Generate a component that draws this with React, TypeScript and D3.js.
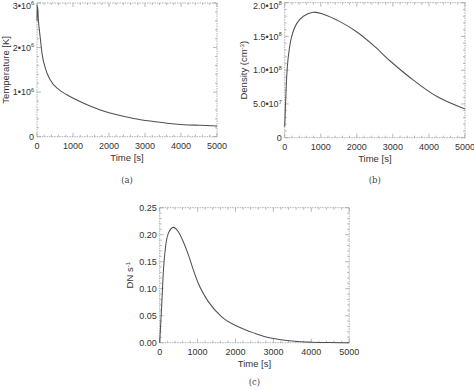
import React from "react";
import * as d3 from "d3";

// ---- Data ----
const tempTime = [0, 5, 12, 20, 30, 45, 65, 93, 139, 231, 370, 602, 833, 1296, 1759, 2222, 2685, 3148, 3611, 4074, 4537, 5000];
const tempValue = [2.6e6, 2.95e6, 2.7e6, 2.9e6, 2.75e6, 2.55e6, 2.4e6, 2.2e6, 1.87e6, 1.54e6, 1.27e6, 1.06e6, 0.94e6, 0.75e6, 0.6e6, 0.49e6, 0.41e6, 0.35e6, 0.3e6, 0.27e6, 0.255e6, 0.24e6];

const densTime = [0, 28, 55, 100, 194, 332, 517, 794, 1070, 1532, 1994, 2456, 2917, 3577, 4224, 5000];
const densValue = [1.63e7, 5.6e7, 9.0e7, 1.2e8, 1.5e8, 1.69e8, 1.8e8, 1.86e8, 1.83e8, 1.72e8, 1.57e8, 1.37e8, 1.14e8, 8.5e7, 6.1e7, 4.25e7];

const dnTime = [0, 53, 95, 158, 228, 360, 491, 623, 755, 887, 1018, 1282, 1636, 2074, 2514, 2778, 3000, 3250, 3500, 3750, 4000, 4500, 5000];
const dnValue = [0, 0.0695, 0.131, 0.18, 0.2025, 0.2136, 0.2055, 0.187, 0.163, 0.135, 0.11, 0.076, 0.048, 0.0296, 0.0173, 0.0112, 0.0078, 0.0049, 0.003, 0.0017, 0.001, 0.0003, 0];

const timeTicks = [0, 1000, 2000, 3000, 4000, 5000];
const tempTicks = [0, 1e6, 2e6, 3e6];
const tempTickLabels = [["0", ""], ["1•10", "6"], ["2•10", "6"], ["3•10", "6"]];
const densTicks = [0, 5e7, 1e8, 1.5e8, 2e8];
const densTickLabels = [["0", ""], ["5.0•10", "7"], ["1.0•10", "8"], ["1.5•10", "8"], ["2.0•10", "8"]];
const dnTicks = [0, 0.05, 0.1, 0.15, 0.2, 0.25];
const dnTickLabels = [["0.00", ""], ["0.05", ""], ["0.10", ""], ["0.15", ""], ["0.20", ""], ["0.25", ""]];

const FONT = "'Liberation Sans', Arial, Helvetica, sans-serif";
const TXT = "#333";

type PanelProps = {
  x0: number; x1: number; y0: number; y1: number;
  times: number[]; values: number[];
  yMax: number; yTicks: number[]; yTickLabels: string[][];
  yMinorStep: number;
  yLabel: React.ReactNode; yLabelX: number;
  caption: string; captionY: number;
  curve: d3.CurveFactory;
};

function Panel(p: PanelProps) {
  const x = d3.scaleLinear().domain([0, 5000]).range([p.x0, p.x1]);
  const y = d3.scaleLinear().domain([0, p.yMax]).range([p.y1, p.y0]);
  const pts: [number, number][] = p.times.map((t, i) => [t, p.values[i]]);
  const line = d3.line<[number, number]>().x(d => x(d[0])).y(d => y(d[1])).curve(p.curve);
  const xMinor = d3.range(0, 5000 + 1, 200);
  const yMinor = d3.range(0, p.yMax * 1.0001, p.yMinorStep);
  const frame = "#9a9a9a";
  const cx = (p.x0 + p.x1) / 2;
  const cy = (p.y0 + p.y1) / 2;
  return (
    <g>
      <rect x={p.x0} y={p.y0} width={p.x1 - p.x0} height={p.y1 - p.y0} fill="none" stroke={frame} strokeWidth={0.8} strokeDasharray="1.5,1" />
      {xMinor.map((t, i) => {
        const major = t % 1000 === 0;
        const len = major ? 4 : 2;
        return (
          <g key={"xm" + i} stroke={frame} strokeWidth={0.7}>
            <line x1={x(t)} x2={x(t)} y1={p.y1} y2={p.y1 - len} />
            <line x1={x(t)} x2={x(t)} y1={p.y0} y2={p.y0 + len} />
          </g>
        );
      })}
      {yMinor.map((v, i) => {
        const major = p.yTicks.some(tk => Math.abs(tk - v) < p.yMinorStep * 0.01);
        const len = major ? 4 : 2;
        return (
          <g key={"ym" + i} stroke={frame} strokeWidth={0.7}>
            <line x1={p.x0} x2={p.x0 + len} y1={y(v)} y2={y(v)} />
            <line x1={p.x1} x2={p.x1 - len} y1={y(v)} y2={y(v)} />
          </g>
        );
      })}
      <path d={line(pts) || ""} fill="none" stroke="#505050" strokeWidth={1.05} />
      {timeTicks.map(t => (
        <text key={"xl" + t} x={x(t)} y={p.y1 + 12.5} textAnchor="middle" fontFamily={FONT} fontSize={9} fill={TXT}>{t}</text>
      ))}
      <text x={cx} y={p.y1 + 24} textAnchor="middle" fontFamily={FONT} fontSize={9.5} fill={TXT}>Time [s]</text>
      {p.yTicks.map((v, i) => (
        <text key={"yl" + i} x={p.x0 - 3} y={Math.max(y(v) + 3.2, 8.5)} textAnchor="end" fontFamily={FONT} fontSize={9} fill={TXT}>
          {p.yTickLabels[i][0]}
          {p.yTickLabels[i][1] ? <tspan dy={-3.5} fontSize={5.5}>{p.yTickLabels[i][1]}</tspan> : null}
        </text>
      ))}
      <text transform={`translate(${p.yLabelX},${cy}) rotate(-90)`} textAnchor="middle" fontFamily={FONT} fontSize={9.5} fill={TXT}>
        {p.yLabel}
      </text>
      <text x={cx} y={p.captionY} textAnchor="middle" fontFamily="'DejaVu Serif', 'Liberation Serif', serif" fontSize={8.5} fill="#444">{p.caption}</text>
    </g>
  );
}

export default function App() {
  return (
    <svg width={474} height={390} style={{ position: "absolute", left: 0, top: 0, background: "#fff" }}>
      <rect width={474} height={390} fill="#fff" />
      <Panel x0={37} x1={217} y0={3} y1={136.7}
        times={tempTime} values={tempValue} yMax={3e6}
        yTicks={tempTicks} yTickLabels={tempTickLabels} yMinorStep={2e5}
        yLabel={"Temperature [K]"} yLabelX={8.5}
        caption="(a)" captionY={183} curve={d3.curveMonotoneX} />
      <Panel x0={284.7} x1={465} y0={2.7} y1={137.7}
        times={densTime} values={densValue} yMax={2e8}
        yTicks={densTicks} yTickLabels={densTickLabels} yMinorStep={1e7}
        yLabel={<>Density (cm<tspan dy={-3.5} fontSize={6}>-3</tspan><tspan dy={3.5}>)</tspan></>} yLabelX={247}
        caption="(b)" captionY={183} curve={d3.curveCatmullRom.alpha(0.5)} />
      <Panel x0={159.7} x1={349.2} y0={207.7} y1={342.7}
        times={dnTime} values={dnValue} yMax={0.25}
        yTicks={dnTicks} yTickLabels={dnTickLabels} yMinorStep={0.01}
        yLabel={<>DN s<tspan dy={-3.5} fontSize={6}>-1</tspan></>} yLabelX={133}
        caption="(c)" captionY={385} curve={d3.curveMonotoneX} />
    </svg>
  );
}
